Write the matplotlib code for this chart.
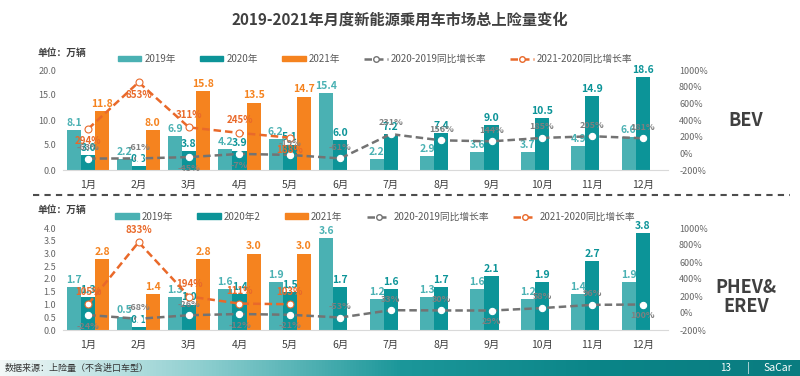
import numpy as np
import matplotlib
matplotlib.use("Agg")
import matplotlib.pyplot as plt
from matplotlib.patches import Patch
from matplotlib.lines import Line2D
from matplotlib.colors import LinearSegmentedColormap

plt.rcParams['font.family'] = ['Noto Sans CJK SC', 'DejaVu Sans']

months = ['1月', '2月', '3月', '4月', '5月', '6月', '7月', '8月', '9月', '10月', '11月', '12月']

# BEV, 万辆
bev_2019 = [8.1, 2.2, 6.9, 4.2, 6.2, 15.4, 2.2, 2.9, 3.6, 3.7, 4.9, 6.6]
bev_2020 = [3.0, 0.8, 3.8, 3.9, 5.1, 6.0, 7.2, 7.4, 9.0, 10.5, 14.9, 18.6]
bev_2021 = [11.8, 8.0, 15.8, 13.5, 14.7]
bev_g20 = [-63, -61, -45, -7, -19, -61, 231, 156, 144, 185, 205, 181]
bev_g21 = [294, 853, 311, 245, 188]

# PHEV & EREV, 万辆
phev_2019 = [1.7, 0.5, 1.3, 1.6, 1.9, 3.6, 1.2, 1.3, 1.6, 1.2, 1.4, 1.9]
phev_2020 = [1.3, 0.1, 1.0, 1.4, 1.5, 1.7, 1.6, 1.7, 2.1, 1.9, 2.7, 3.8]
phev_2021 = [2.8, 1.4, 2.8, 3.0, 3.0]
phev_g20 = [-24, -68, -26, -12, -21, -53, 33, 30, 29, 58, 96, 100]
phev_g21 = [105, 833, 194, 111, 103]

# label above (+1) or below (-1) the marker
bev_g20_side = [1, 1, -1, -1, 1, 1, 1, 1, 1, 1, 1, 1]
bev_g21_side = [-1, -1, 1, 1, -1]
phev_g20_side = [-1, 1, 1, -1, -1, 1, 1, 1, -1, 1, 1, -1]
phev_g21_side = [1, 1, 1, 1, 1]

c19 = '#4AB1B3'
c20 = '#0C9498'
c21 = '#F5831F'
c_gray = '#737373'
c_or = '#E9692A'
txt = '#404040'

W, H = 800, 376
fig = plt.figure(figsize=(8, 3.76), dpi=100)


def fx(px):
    return px / W


def fy(py):
    return 1 - py / H


def panel(rect, v19, v20, v21, g20, g21, s20, s21, ymax, ystep, lab20):
    ax = fig.add_axes(rect)
    x = np.arange(1, 13)
    w = 0.28
    ax.bar(x - w, v19, w, color=c19, zorder=2)
    ax.bar(x, v20, w, color=c20, zorder=2)
    x21 = np.arange(1, len(v21) + 1)
    ax.bar(x21 + w, v21, w, color=c21, zorder=2)
    off = ymax * 0.02
    for xs, vs, c in [(x - w, v19, c19), (x, v20, c20), (x21 + w, v21, c21)]:
        for xi, v in zip(xs, vs):
            ax.text(xi, v + off, f'{v:.1f}', ha='center', va='bottom', color=c,
                    fontsize=7.5, fontweight='bold', zorder=5, clip_on=False)
    ax.set_xlim(0.5, 12.5)
    ax.set_ylim(0, ymax)
    ax.set_yticks(np.arange(0, ymax + 0.001, ystep))
    ax.set_yticklabels([f'{t:.1f}' for t in np.arange(0, ymax + 0.001, ystep)])
    ax.set_xticks(x)
    ax.set_xticklabels(months)
    ax.tick_params(axis='y', length=0, labelsize=6.5, labelcolor='#666666', pad=5)
    ax.tick_params(axis='x', length=0, labelsize=7.5, labelcolor=txt, pad=7)
    for sp in ['top', 'left', 'right']:
        ax.spines[sp].set_visible(False)
    ax.spines['bottom'].set_color('#d9d9d9')

    ax2 = ax.twinx()
    ax2.set_ylim(-200, 1000)
    ax2.set_yticks(np.arange(-200, 1001, 200))
    ax2.set_yticklabels([f'{t}%' for t in range(-200, 1001, 200)])
    ax2.tick_params(axis='y', length=0, labelsize=6.5, labelcolor='#666666', pad=8)
    for sp in ax2.spines.values():
        sp.set_visible(False)
    ax2.plot(x, g20, color=c_gray, ls=(0, (3, 1.6)), lw=1.8, marker='o', ms=4.5,
             mfc='white', mec='white', mew=0.8, zorder=3)
    ax2.plot(x21, g21, color=c_or, ls=(0, (3, 1.6)), lw=1.8, marker='o', ms=5,
             mfc='white', mec=c_or, mew=0.8, zorder=4)
    for xi, g, s in zip(x, g20, s20):
        ax2.annotate(f'{g}%', (xi, g), xytext=(0, 8 * s), textcoords='offset points',
                     ha='center', va='center', fontsize=6.5, color='#7f7f7f',
                     fontweight='bold', zorder=6)
    for xi, g, s in zip(x21, g21, s21):
        ax2.annotate(f'{g}%', (xi, g), xytext=(0, 9 * s), textcoords='offset points',
                     ha='center', va='center', fontsize=7, color=c_or,
                     fontweight='bold', zorder=6)

    handles = [Patch(color=c19), Patch(color=c20), Patch(color=c21),
               Line2D([], [], color=c_gray, ls=(0, (3, 1.6)), lw=1.8, marker='o', ms=4,
                      mfc='white', mec=c_gray),
               Line2D([], [], color=c_or, ls=(0, (3, 1.6)), lw=1.8, marker='o', ms=4,
                      mfc='white', mec=c_or)]
    labels = ['2019年', lab20, '2021年', '2020-2019同比增长率', '2021-2020同比增长率']
    leg = ax2.legend(handles, labels, ncol=5, frameon=False, fontsize=7,
                     loc='center', bbox_to_anchor=(0.516, 1.11), handlelength=2.4,
                     handleheight=0.55, handletextpad=0.3, columnspacing=2.5)
    for t in leg.get_texts():
        t.set_color('#595959')
    return ax


panel([fx(63), fy(170), fx(605), 100 / H], bev_2019, bev_2020, bev_2021, bev_g20, bev_g21,
      bev_g20_side, bev_g21_side, 20, 5, '2020年')
panel([fx(63), fy(330), fx(605), 102 / H], phev_2019, phev_2020, phev_2021, phev_g20, phev_g21,
      phev_g20_side, phev_g21_side, 4, 0.5, '2020年2')

fig.text(0.5, fy(20), '2019-2021年月度新能源乘用车市场总上险量变化', ha='center', va='center',
         fontsize=11, fontweight='bold', color=txt)
fig.text(fx(38), fy(53), '单位：万辆', ha='left', va='center', fontsize=7, color=txt, fontweight='bold')
fig.text(fx(38), fy(210), '单位：万辆', ha='left', va='center', fontsize=7, color=txt, fontweight='bold')
fig.text(fx(746), fy(120), 'BEV', ha='center', va='center', fontsize=13, fontweight='bold', color=txt)
fig.text(fx(746), fy(297), 'PHEV&\nEREV', ha='center', va='center', fontsize=13, fontweight='bold',
         color=txt, linespacing=1.05)

fig.add_artist(Line2D([fx(33), fx(790)], [fy(195), fy(195)], ls=(0, (3, 2.5)), lw=1.5, color='#4d4d4d'))

# footer band
fax = fig.add_axes([0, 0, 1, 16 / H])
cmap = LinearSegmentedColormap.from_list('band', ['#f3f8f8', '#8fcfd0', '#1c979a', '#0b8588', '#0a7c80'])
fax.imshow(np.linspace(0, 1, 256)[None, :], aspect='auto', cmap=cmap, extent=[0, 1, 0, 1])
fax.set_axis_off()
fig.text(fx(5), fy(368), '数据来源：上险量（不含进口车型）', ha='left', va='center', fontsize=6.5, color='#333333')
fig.text(fx(726), fy(368), '13', ha='center', va='center', fontsize=7, color='white')
fig.text(fx(748), fy(368), '|', ha='center', va='center', fontsize=7, color='white')
fig.text(fx(778), fy(368), 'SaCar', ha='center', va='center', fontsize=7.5, color='white')

fig.savefig('out.png', dpi=100)
